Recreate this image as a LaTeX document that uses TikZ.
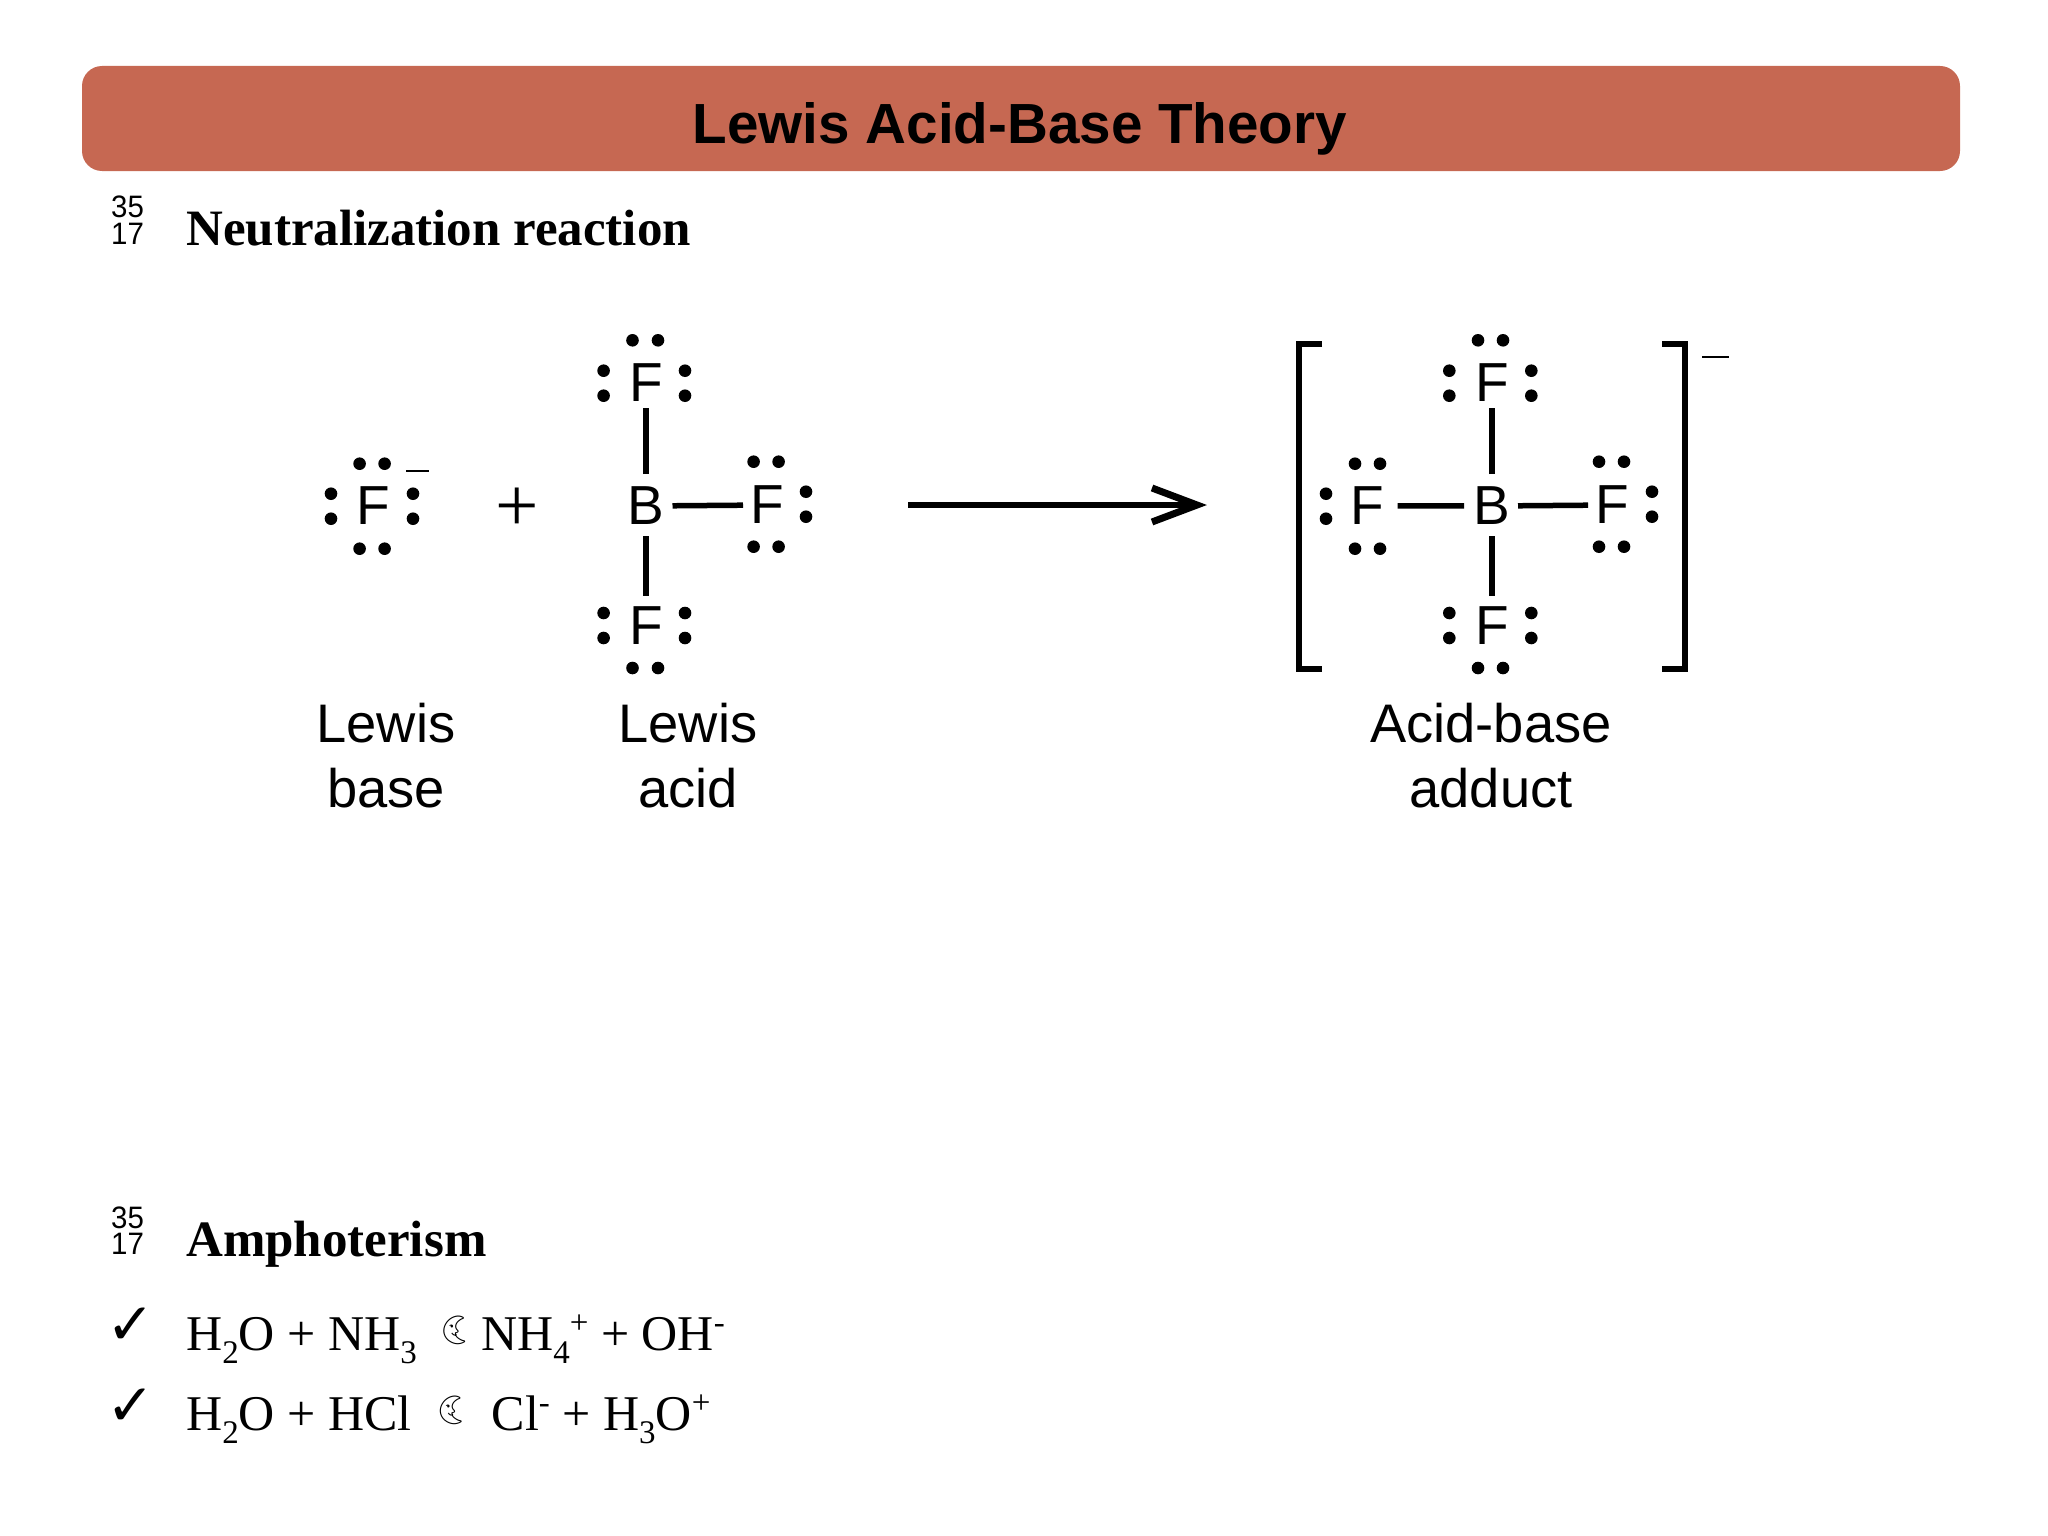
\documentclass[tikz,border=0pt]{standalone}
\usepackage{fontspec}
\setmainfont{Liberation Serif}
\setsansfont{Liberation Sans}
\newfontfamily\emojifont{Noto Emoji}
\newfontfamily\symfont{DejaVu Sans}
\newcommand{\fs}[1]{\fontsize{#1}{#1}\selectfont}
\newcommand{\dn}[1]{\raisebox{-13pt}{\fs{33}#1}}
\newcommand{\up}[1]{\raisebox{17pt}{\fs{33}#1}}
\newcommand{\nar}[1]{\scalebox{.95}[1]{#1}}
\definecolor{barcol}{HTML}{C66852}
\tikzset{
  atom/.style={font=\sffamily\fs{55},inner sep=0pt,anchor=center},
  caption/.style={font=\sffamily\fs{54.3},inner sep=0pt,anchor=base},
  bond/.style={line width=5.5pt,black},
  edot/.style={fill=black},
  iso/.style={font=\sffamily\fs{31},inner sep=0pt,anchor=base west},
  head/.style={font=\rmfamily\bfseries\fs{51},inner sep=0pt,anchor=base west},
  eqn/.style={font=\rmfamily\fs{50},inner sep=0pt,anchor=base west},
  moon/.style={font=\emojifont\fs{28},inner sep=0pt,anchor=center,rotate=-30},
  tick/.style={font=\symfont\fs{58},inner sep=0pt,anchor=center},
  brk/.style={line width=6pt,line cap=butt,line join=miter},
  minus/.style={line width=2.5pt},
}
\newcommand{\pairs}[1]{\foreach \px/\py in {#1}{\fill[edot] (\px,\py) circle[radius=6.3];}}
\begin{document}
\begin{tikzpicture}[x=1pt,y=-1pt]
\useasboundingbox (0,0) rectangle (2048,1536);
% title
\node[fill=barcol,rounded corners=20pt,minimum width=1878pt,minimum height=105pt,inner sep=0pt] (bar) at (1021,118.5) {};
\node[font=\sffamily\bfseries\fs{56.6},inner sep=0pt,anchor=base] (title) at (1020,143) {Lewis Acid-Base Theory};
% section 1
\node[iso] (a1) at (111,217) {\nar{35}};
\node[iso] (a2) at (111,244) {\nar{17}};
\node[head] (h1) at (186,245) {Neutralization reaction};
% Lewis base
\node[atom] (Fm) at (373,506) {F};
\pairs{359.6/463.7,384.6/463.7,359.6/548.7,384.6/548.7,331/493.7,331/518.7,413/493.7,413/518.7}
\coordinate (ma) at (406,471); \coordinate (mb) at (429,471);
\draw[minus] (ma) -- (mb);
\node[font=\rmfamily\fs{77},inner sep=0pt] (plus) at (517,510) {+};
% BF3
\node[atom] (B1) at (646,506) {B};
\node[atom] (F1t) at (646,383) {F};
\node[atom] (F1b) at (646,625.7) {F};
\node[atom] (F1r) at (767,505) {F};
\draw[bond,shorten <=32pt,shorten >=25pt] (B1.center) -- (F1t.center);
\draw[bond,shorten <=30pt,shorten >=30pt] (B1.center) -- (F1b.center);
\draw[bond,shorten <=26.5pt,shorten >=24pt] (B1.center) -- (F1r.center);
\pairs{632.5/340.3,658/340.3,603.6/370.7,603.6/395.7,685/370.7,685/395.7,
603.6/613,603.6/638,685/613,685/638,632.5/668,658/668,
753.6/461.7,778.6/461.7,753.6/546.7,778.6/546.7,806/491.7,806/516.7}
% captions
\node[caption] (c1) at (386,742) {Lewis};
\node[caption] (c2) at (386,807) {base};
\node[caption] (c3) at (688,742) {Lewis};
\node[caption] (c4) at (688,807) {acid};
% arrow
\coordinate (as) at (908,505); \coordinate (ae) at (1194,505);
\coordinate (atip) at (1197,505); \coordinate (au) at (1152,488); \coordinate (ad) at (1152,522);
\draw[line width=6pt] (as) -- (ae);
\draw[line width=7pt,line join=miter] (au) -- (atip) -- (ad);
% adduct
\node[atom] (B2) at (1492,506) {B};
\node[atom] (F2t) at (1492,383) {F};
\node[atom] (F2b) at (1492,625.7) {F};
\node[atom] (F2l) at (1367.7,505.7) {F};
\node[atom] (F2r) at (1612.7,505) {F};
\draw[bond,shorten <=32pt,shorten >=25pt] (B2.center) -- (F2t.center);
\draw[bond,shorten <=30pt,shorten >=30pt] (B2.center) -- (F2b.center);
\draw[bond,shorten <=28pt,shorten >=30pt] (B2.center) -- (F2l.center);
\draw[bond,shorten <=26pt,shorten >=24.7pt] (B2.center) -- (F2r.center);
\pairs{1478/340.3,1503/340.3,1449.3/370.7,1449.3/395.7,1531.3/370.7,1531.3/395.7,
1449.3/613,1449.3/638,1531.3/613,1531.3/638,1478/668,1503/668,
1355/463.7,1380/463.7,1355/548.7,1380/548.7,1326/493.7,1326/518.7,
1599/461.7,1624/461.7,1599/546.7,1624/546.7,1652/491.7,1652/516.7}
\draw[brk] (1322,343.7) -- (1299,343.7) -- (1299,669) -- (1322,669);
\draw[brk] (1662,343.7) -- (1685,343.7) -- (1685,669) -- (1662,669);
\coordinate (mc) at (1702,357); \coordinate (md) at (1729,357);
\draw[minus] (mc) -- (md);
\node[caption] (c5) at (1491,742) {Acid-base};
\node[caption] (c6) at (1491,807) {adduct};
% section 2
\node[iso] (b1) at (111,1228) {\nar{35}};
\node[iso] (b2) at (111,1254) {\nar{17}};
\node[head] (h2) at (186,1256) {Amphoterism};
\node[tick] (t1) at (131,1326) {✓};
\node[tick] (t2) at (131,1407) {✓};
\node[eqn] (e1a) at (186,1350) {H\dn{2}O + NH\dn{3}};
\node[moon] (m1) at (457,1330) {🌜};
\node[eqn] (e1b) at (481,1350) {NH\dn{4}\up{+} + OH\up{-}};
\node[eqn] (e2a) at (186,1430) {H\dn{2}O + HCl};
\node[moon] (m2) at (453.5,1410) {🌜};
\node[eqn] (e2b) at (491.5,1430) {Cl\up{-} + H\dn{3}O\up{+}};
\end{tikzpicture}
\end{document}
